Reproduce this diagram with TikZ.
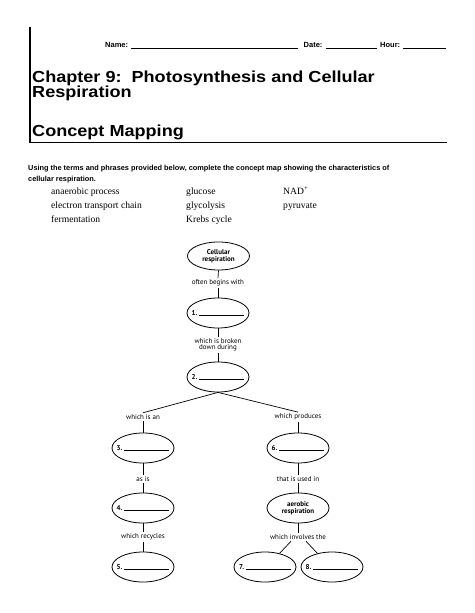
\documentclass[tikz,border=0pt]{standalone}
\usepackage{fontspec}
\setmainfont{Liberation Serif}
\newfontfamily\hdfont{Liberation Sans}
\newfontfamily\hdwide[FakeStretch=1.13]{Liberation Sans}
\newfontfamily\mapfont{PT Sans}
\usetikzlibrary{shapes.geometric}
\begin{document}
\begin{tikzpicture}[x=1pt,y=-1pt,
  oval/.style={draw,ellipse,line width=0.8pt,minimum width=62pt,minimum height=30pt,inner ysep=0pt,inner xsep=-6pt,
    font=\mapfont\fontsize{7}{8}\selectfont,align=center},
  lbl/.style={inner sep=1.5pt,font=\mapfont\fontsize{7}{8}\selectfont,align=center},
  conn/.style={line width=0.7pt},
  blank/.style={line width=0.6pt}]
\useasboundingbox[fill=white] (0,0) rectangle (474,613);
% header frame
\draw[line width=2pt] (29.5,27) -- (29.5,143);
\draw[line width=0.9pt] (28.5,142.6) -- (447,142.6);
% name line
\node[anchor=base west,inner sep=0pt,font=\hdfont\bfseries\fontsize{7.5}{8}\selectfont] (nm) at (105,47.8) {Name:};
\draw[blank] (131,48.6) -- (298,48.6);
\node[anchor=base west,inner sep=0pt,font=\hdfont\bfseries\fontsize{7.5}{8}\selectfont] (dt) at (303.5,47.8) {Date:};
\draw[blank] (326,48.6) -- (377,48.6);
\node[anchor=base west,inner sep=0pt,font=\hdfont\bfseries\fontsize{7.5}{8}\selectfont] (hr) at (380,47.8) {Hour:};
\draw[blank] (403,48.6) -- (446,48.6);
% titles
\node[anchor=base west,inner sep=0pt,font=\hdwide\bfseries\fontsize{16}{18}\selectfont] (t1) at (32,82) {Chapter 9:\ \ Photosynthesis and Cellular};
\node[anchor=base west,inner sep=0pt,font=\hdwide\bfseries\fontsize{16}{18}\selectfont] (t2) at (32,97.5) {Respiration};
\node[anchor=base west,inner sep=0pt,font=\hdwide\bfseries\fontsize{16}{18}\selectfont] (t3) at (32,136.8) {Concept Mapping};
% instructions
\node[anchor=base west,inner sep=0pt,font=\hdfont\bfseries\fontsize{7.35}{9}\selectfont] (in1) at (28,170) {Using the terms and phrases provided below, complete the concept map showing the characteristics of};
\node[anchor=base west,inner sep=0pt,font=\hdfont\bfseries\fontsize{7.35}{9}\selectfont] (in2) at (28,181) {cellular respiration.};
% terms
\foreach \t/\x/\y [count=\i] in {anaerobic process/51/194.5, electron transport chain/51/208.5, fermentation/51/222,
   glucose/186/194.5, glycolysis/186/208.5, Krebs cycle/186/222, pyruvate/283/208.5}
  \node[anchor=base west,inner sep=0pt,font=\fontsize{9.6}{11}\selectfont] (term\i) at (\x,\y) {\t};
\node[anchor=base west,inner sep=0pt,font=\fontsize{9.6}{11}\selectfont] (termnad) at (283,194.5) {NAD\textsuperscript{+}};
% concept map
\newcommand{\blankline}[1]{\textbf{#1}\ \rule[-0.3pt]{45pt}{0.5pt}}
\node[oval,minimum height=28pt,font=\mapfont\bfseries\fontsize{7}{8}\selectfont] (cr) at (218.5,256) {Cellular\\[-1pt]respiration};
\node[lbl] (l1) at (218,283) {often begins with};
\node[oval] (e1) at (218,313) {\blankline{1.}};
\node[lbl] (l2) at (218,345) {which is broken\\[-1.5pt]down during};
\node[oval] (e2) at (218,377) {\blankline{2.}};
\node[lbl] (l3) at (143,417) {which is an};
\node[lbl] (l6) at (298,417) {which produces};
\node[oval] (e3) at (143,448) {\blankline{3.}};
\node[lbl] (l4) at (143,479) {as is};
\node[oval] (e4) at (143,508) {\blankline{4.}};
\node[lbl] (l5) at (143,537) {which recycles};
\node[oval] (e5) at (143,567) {\blankline{5.}};
\node[oval] (e6) at (298,448) {\blankline{6.}};
\node[lbl] (l7) at (298,479) {that is used in};
\node[oval,font=\mapfont\bfseries\fontsize{7}{8}\selectfont] (ar) at (298,508) {aerobic\\[-1pt]respiration};
\node[lbl] (l8) at (298,537) {which involves the};
\node[oval] (e7) at (265,567) {\blankline{7.}};
\node[oval] (e8) at (332,567) {\blankline{8.}};
\draw[conn] (cr.south) -- (l1.north);
\draw[conn] (l1.south) -- (e1.north);
\draw[conn] (e1.south) -- (l2.north);
\draw[conn] (l2.south) -- (e2.north);
\draw[conn] (e2.south) -- (l3.north);
\draw[conn] (e2.south) -- (l6.north);
\draw[conn] (l3.south) -- (e3.north);
\draw[conn] (e3.south) -- (l4.north);
\draw[conn] (l4.south) -- (e4.north);
\draw[conn] (e4.south) -- (l5.north);
\draw[conn] (l5.south) -- (e5.north);
\draw[conn] (l6.south) -- (e6.north);
\draw[conn] (e6.south) -- (l7.north);
\draw[conn] (l7.south) -- (ar.north);
\draw[conn] (ar.south) -- (l8.north);
\draw[conn] ([xshift=-7pt]l8.south) -- (e7.43);
\draw[conn] ([xshift=8pt]l8.south) -- (e8.137);
\end{tikzpicture}
\end{document}
